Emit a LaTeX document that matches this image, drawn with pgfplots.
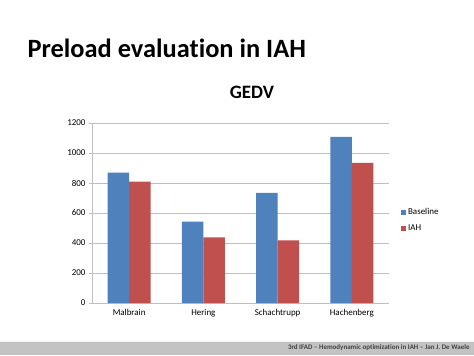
\documentclass[border=0pt]{standalone}
\usepackage{pgfplots}
\pgfplotsset{compat=1.18}
\usepackage{fontspec}
\setmainfont{Carlito}[Ligatures=NoCommon]
\definecolor{cblue}{HTML}{4F81BD}
\definecolor{cred}{HTML}{C0504D}
\definecolor{cgrid}{HTML}{BFBFBF}
\definecolor{cfoot}{HTML}{C3C3C3}
\begin{document}
\begin{tikzpicture}[x=1bp,y=1bp]
\fill[white] (0,0) rectangle (474,355);
\useasboundingbox (0,0) rectangle (474,355);
\fill[cfoot] (0,0) rectangle (474,14);
\draw[white!90!gray, line width=0.8bp] (0,14) -- (474,14);
\node[anchor=west, font=\bfseries\fontsize{26.5}{30}\selectfont] at (24,307) {Preload evaluation in IAH};
\node[font=\bfseries\fontsize{19}{22}\selectfont] at (252,263) {GEDV};
\node[anchor=east, font=\bfseries\fontsize{7}{8}\selectfont, text=black!75] at (473,7) {3rd IFAD -- Hemodynamic optimization in IAH -- Jan J. De Waele};
\begin{axis}[
  at={(92bp,52bp)}, anchor=south west,
  width=297bp, height=180bp, scale only axis,
  ybar=0pt, bar width=21.5bp,
  xmin=-0.5, xmax=3.5, ymin=0, ymax=1200,
  ytick={0,200,...,1200},
  xtick={0,1,2,3},
  xticklabels={Malbrain,Hering,Schachtrupp,Hachenberg},
  extra x ticks={0.5,1.5,2.5,3.5},
  extra x tick labels={},
  extra x tick style={grid=none, major tick length=3bp, tick style={cgrid}},
  major x tick style={draw=none},
  ymajorgrids, grid style={cgrid, line width=0.6bp},
  axis x line*=bottom, axis y line*=left,
  axis line style={cgrid},
  tick style={cgrid},
  major tick length=3bp,
  tick align=outside,
  /pgf/number format/assume math mode=true,
  /pgf/number format/1000 sep={},
  ticklabel style={font=\fontsize{9}{10}\selectfont},
  legend style={at={(1.03,0.46)}, anchor=west, draw=none, fill=none,
    font=\fontsize{9}{10}\selectfont, row sep=4bp},
  legend cell align=left,
  every axis plot/.append style={draw=none,
    legend image code/.code={\fill[##1] (0,-2.5bp) rectangle (5bp,2.5bp);}},
]
\addplot[fill=cblue] coordinates {(0,870) (1,542) (2,735) (3,1108)};
\addplot[fill=cred] coordinates {(0,809) (1,438) (2,418) (3,935)};
\legend{Baseline,IAH}
\end{axis}
\end{tikzpicture}
\end{document}
